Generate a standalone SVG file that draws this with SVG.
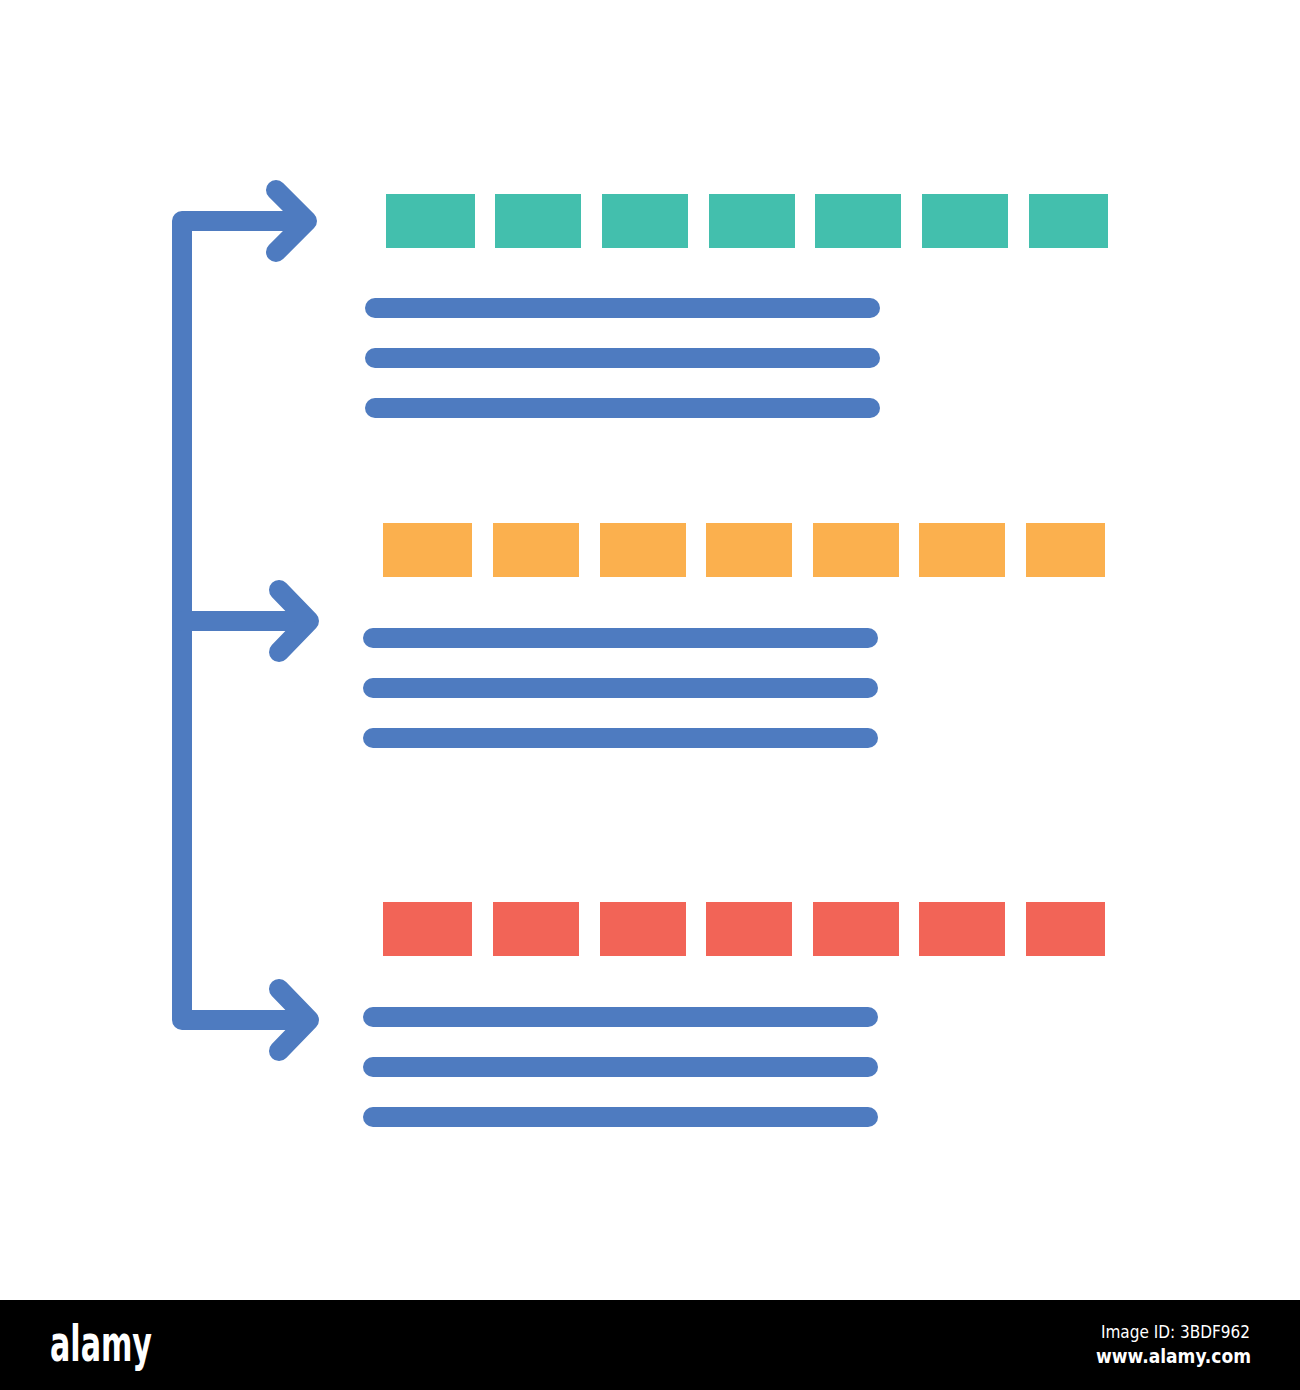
<svg xmlns="http://www.w3.org/2000/svg" width="1300" height="1390" viewBox="0 0 1300 1390">
  <style>
    .conn { fill: none; stroke: #4E7BC0; stroke-width: 20; stroke-linecap: round; stroke-linejoin: round; }
    .line { stroke: #4E7BC0; stroke-width: 20; stroke-linecap: round; }
    .teal { fill: #43BFAD; }
    .orange { fill: #FBB04E; }
    .red { fill: #F26457; }
    .wm { fill: #ffffff; font-family: "Liberation Sans Narrow", "DejaVu Sans Condensed", "Liberation Sans", sans-serif; }
  </style>
  <defs>
    <g id="text3">
      <line class="line" x1="375" y1="0" x2="870" y2="0"/>
      <line class="line" x1="375" y1="50" x2="870" y2="50"/>
      <line class="line" x1="375" y1="100" x2="870" y2="100"/>
    </g>
  </defs>
  <rect x="0" y="0" width="1300" height="1390" fill="#ffffff"/>

  <g id="connectors">
    <path class="conn" d="M305 221 H182 V1020 H305"/>
    <path class="conn" d="M182 621 H305"/>
    <path class="conn" d="M276 190 L307 221 L276 252"/>
    <path class="conn" d="M279 590 L309 621 L279 652"/>
    <path class="conn" d="M279 989 L309 1020 L279 1051"/>
  </g>

  <g id="node-top">
    <rect class="teal" x="386" y="194" width="89" height="54"/>
    <rect class="teal" x="495" y="194" width="86" height="54"/>
    <rect class="teal" x="602" y="194" width="86" height="54"/>
    <rect class="teal" x="709" y="194" width="86" height="54"/>
    <rect class="teal" x="815" y="194" width="86" height="54"/>
    <rect class="teal" x="922" y="194" width="86" height="54"/>
    <rect class="teal" x="1029" y="194" width="79" height="54"/>
    <use href="#text3" x="0" y="308"/>
  </g>

  <g id="node-middle">
    <rect class="orange" x="383" y="523" width="89" height="54"/>
    <rect class="orange" x="493" y="523" width="86" height="54"/>
    <rect class="orange" x="600" y="523" width="86" height="54"/>
    <rect class="orange" x="706" y="523" width="86" height="54"/>
    <rect class="orange" x="813" y="523" width="86" height="54"/>
    <rect class="orange" x="919" y="523" width="86" height="54"/>
    <rect class="orange" x="1026" y="523" width="79" height="54"/>
    <use href="#text3" x="-2" y="638"/>
  </g>

  <g id="node-bottom">
    <rect class="red" x="383" y="902" width="89" height="54"/>
    <rect class="red" x="493" y="902" width="86" height="54"/>
    <rect class="red" x="600" y="902" width="86" height="54"/>
    <rect class="red" x="706" y="902" width="86" height="54"/>
    <rect class="red" x="813" y="902" width="86" height="54"/>
    <rect class="red" x="919" y="902" width="86" height="54"/>
    <rect class="red" x="1026" y="902" width="79" height="54"/>
    <use href="#text3" x="-2" y="1017"/>
  </g>

  <g id="footer">
    <rect x="0" y="1300" width="1300" height="90" fill="#000000"/>
    <text class="wm" x="50" y="1361" font-size="50" font-weight="bold" textLength="102" lengthAdjust="spacingAndGlyphs">alamy</text>
    <text class="wm" x="1250" y="1338" font-size="17" text-anchor="end">Image ID: 3BDF962</text>
    <text class="wm" x="1251" y="1363" font-size="19" font-weight="bold" text-anchor="end">www.alamy.com</text>
  </g>
</svg>
